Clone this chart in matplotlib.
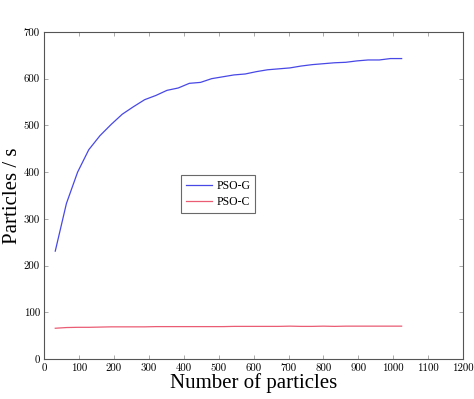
import matplotlib.pyplot as plt
import numpy as np

# number of particles (x) and throughput for both variants
particles = [32 * k for k in range(1, 33)]
pso_g = [231, 333, 400, 448, 478, 502, 524, 540, 555, 564, 575, 580,
         590, 592, 600, 604, 608, 610, 615, 619, 621, 623, 627, 630,
         632, 634, 635, 638, 640, 640, 643, 643]
pso_c = [66, 67.5, 68, 68, 68.5, 69, 69, 69, 69, 69.5, 69.5, 69.5,
         69.5, 69.5, 69.5, 69.5, 70, 70, 70, 70, 70, 70.5, 70, 70,
         70.5, 70, 70.5, 70.5, 70.5, 70.5, 70.5, 70.5]
xticks = list(range(0, 1201, 100))
yticks = list(range(0, 701, 100))

fig = plt.figure(figsize=(4.74, 3.99), dpi=100)
ax = fig.add_axes([0.093, 0.100, 0.884, 0.820])

ax.plot(particles, pso_g, color='#4848e6', linewidth=0.9, label='PSO-G')
ax.plot(particles, pso_c, color='#ea5c74', linewidth=0.9, label='PSO-C')

ax.set_xlim(0, 1200)
ax.set_ylim(0, 700)
ax.set_xticks(xticks)
ax.set_yticks(yticks)

for sp in ax.spines.values():
    sp.set_color('#555555')
    sp.set_linewidth(0.8)

ax.tick_params(direction='in', top=True, right=True, length=3, width=0.5,
               color='#888888', labelsize=7.8, pad=3)
for lab in ax.get_xticklabels() + ax.get_yticklabels():
    lab.set_family(['cmr10', 'DejaVu Serif'])

ax.set_xlabel('Number of particles', fontsize=15, family='Liberation Serif', labelpad=0)
ax.set_ylabel('Particles / s', fontsize=15, family='Liberation Serif', labelpad=1)

leg = ax.legend(loc='center', bbox_to_anchor=(0.415, 0.505),
                prop={'family': 'Liberation Serif', 'size': 8.5},
                frameon=True, fancybox=False, handlelength=2.2,
                handletextpad=0.4, borderpad=0.4, labelspacing=0.35)
leg.get_frame().set_edgecolor('#444444')
leg.get_frame().set_linewidth(0.8)

fig.savefig('out.png', dpi=100)
